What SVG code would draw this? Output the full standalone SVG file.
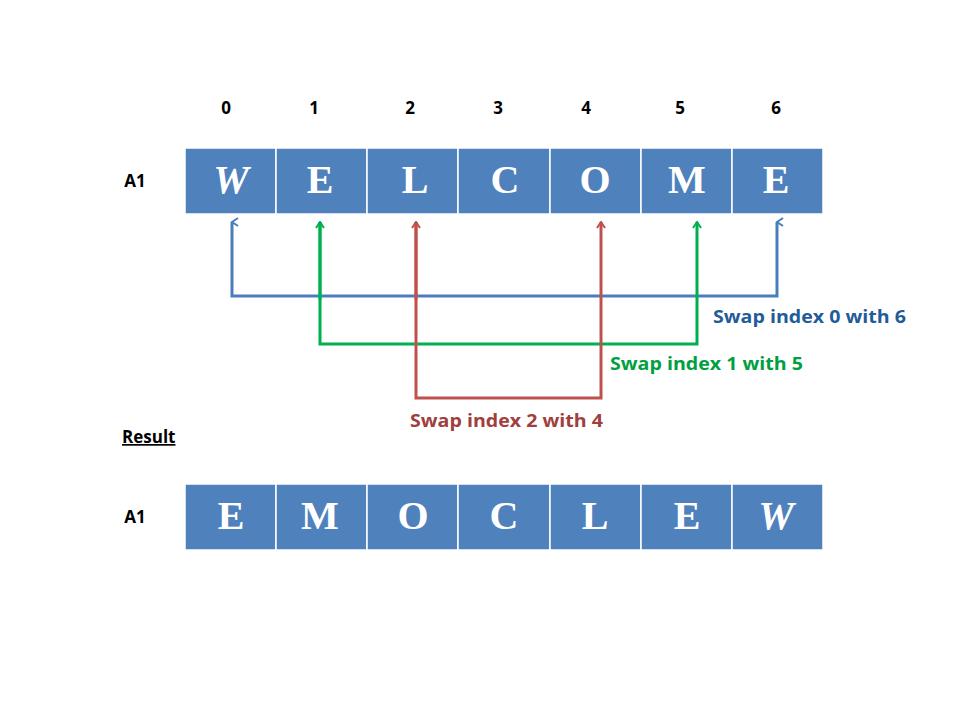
<svg xmlns="http://www.w3.org/2000/svg" width="960" height="720" viewBox="0 0 960 720">
<style>
.cell{fill:#4f81bd;stroke:#fff;stroke-width:1.5}
.let{font-family:"Liberation Serif",serif;font-weight:bold;font-size:40px;fill:#fff;text-anchor:middle}
.idx{font-family:"Open Sans","Liberation Sans",sans-serif;font-weight:bold;font-size:17px;fill:#000;text-anchor:middle}
.lab{font-family:"Open Sans","Liberation Sans",sans-serif;font-weight:bold;font-size:17px}
.ln{fill:none;stroke-width:3}
</style>
<defs>
<marker id="ab" viewBox="0 0 10 10" refX="5" refY="1" markerWidth="10" markerHeight="10" markerUnits="userSpaceOnUse" orient="auto-start-reverse"><path d="M1,7 L5,1 L9,7" fill="none" stroke="#4a7ebb" stroke-width="2"/></marker>
<marker id="ag" viewBox="0 0 10 10" refX="5" refY="1" markerWidth="10" markerHeight="10" markerUnits="userSpaceOnUse"><path d="M1,7 L5,1 L9,7" fill="none" stroke="#00b050" stroke-width="2"/></marker>
<marker id="ar" viewBox="0 0 10 10" refX="5" refY="1" markerWidth="10" markerHeight="10" markerUnits="userSpaceOnUse"><path d="M1,7 L5,1 L9,7" fill="none" stroke="#c0504d" stroke-width="2"/></marker>
</defs>
<rect width="960" height="720" fill="#fff"/>
<g id="indices">
<text class="idx" x="226" y="114">0</text><text class="idx" x="314" y="114">1</text><text class="idx" x="410" y="114">2</text><text class="idx" x="498" y="114">3</text><text class="idx" x="586" y="114">4</text><text class="idx" x="680" y="114">5</text><text class="idx" x="776" y="114">6</text>
</g>
<text class="idx" x="135" y="187">A1</text>
<g id="top">
<rect class="cell" x="185" y="148" width="91" height="66"/><rect class="cell" x="276" y="148" width="91" height="66"/><rect class="cell" x="367" y="148" width="91" height="66"/><rect class="cell" x="458" y="148" width="92" height="66"/><rect class="cell" x="550" y="148" width="91" height="66"/><rect class="cell" x="641" y="148" width="91" height="66"/><rect class="cell" x="732" y="148" width="91" height="66"/>
<text class="let" x="231" y="193" font-style="italic">W</text><text class="let" x="320" y="193">E</text><text class="let" x="415" y="193">L</text><text class="let" x="505" y="193">C</text><text class="let" x="595" y="193">O</text><text class="let" x="687" y="193">M</text><text class="let" x="776" y="193">E</text>
</g>
<g id="connectors">
<path class="ln" stroke="#4a7ebb" d="M232,222 V296 H777 V222" marker-start="url(#ab)" marker-end="url(#ab)"/>
<path class="ln" stroke="#00b050" d="M320,222 V344 H697 V222" marker-start="url(#ab)" marker-end="url(#ag)" style="marker-start:none"/>
<path class="ln" stroke="#00b050" d="M320,300 V222" marker-end="url(#ag)"/>
<path class="ln" stroke="#c0504d" d="M416,222 V398 H601 V222" marker-end="url(#ar)"/>
<path class="ln" stroke="#c0504d" d="M416,300 V222" marker-end="url(#ar)"/>
</g>
<text class="lab" x="713" y="323" fill="#1f5c99" textLength="193" lengthAdjust="spacingAndGlyphs">Swap index 0 with 6</text>
<text class="lab" x="610" y="370" fill="#00a040" textLength="193" lengthAdjust="spacingAndGlyphs">Swap index 1 with 5</text>
<text class="lab" x="410" y="427" fill="#a0403d" textLength="193" lengthAdjust="spacingAndGlyphs">Swap index 2 with 4</text>
<text x="122" y="443" font-family="Open Sans,Liberation Sans,sans-serif" font-weight="bold" font-size="17" text-decoration="underline">Result</text>
<text class="idx" x="135" y="523">A1</text>
<g id="bottom">
<rect class="cell" x="185" y="484" width="91" height="66"/><rect class="cell" x="276" y="484" width="91" height="66"/><rect class="cell" x="367" y="484" width="91" height="66"/><rect class="cell" x="458" y="484" width="92" height="66"/><rect class="cell" x="550" y="484" width="91" height="66"/><rect class="cell" x="641" y="484" width="91" height="66"/><rect class="cell" x="732" y="484" width="91" height="66"/>
<text class="let" x="231" y="529">E</text><text class="let" x="320" y="529">M</text><text class="let" x="413" y="529">O</text><text class="let" x="504" y="529">C</text><text class="let" x="595" y="529">L</text><text class="let" x="687" y="529">E</text><text class="let" x="776" y="529" font-style="italic">W</text>
</g>
</svg>
